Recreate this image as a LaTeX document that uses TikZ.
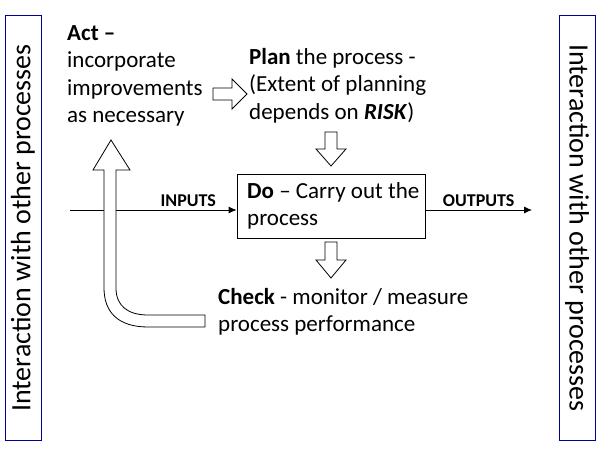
\documentclass[tikz,border=0pt]{standalone}
\usepackage{fontspec}
\setmainfont{Carlito}
\usetikzlibrary{arrows.meta,positioning}
\tikzset{
	txt/.style={align=left, inner sep=0, anchor=north west, font=\fontsize{23}{27.5}\selectfont},
	side/.style={draw=blue!60!black, thin, minimum width=425pt, minimum height=36pt, inner sep=0, font=\fontsize{28}{30}\selectfont},
	hollow/.style={draw, thick, fill=white},
	lbl/.style={font=\bfseries\fontsize{18}{20}\selectfont},
	flow/.style={-{Latex[length=8pt,width=7pt]}, thick}
}
\begin{document}
\begin{tikzpicture}[x=1pt,y=-1pt]
	\useasboundingbox (0,0) rectangle (600,449);
	\node[side, rotate=90] (left) at (23,228) {Interaction with other processes};
	\node[side, rotate=-90] (right) at (577,228) {Interaction with other processes};
	\node[txt] (act) at (67,25) {\textbf{Act –}\\incorporate\\improvements\\as necessary};
	\node[txt] (plan) at (249,48) {\textbf{Plan} the process -\\(Extent of planning\\depends on \textbf{\textit{RISK}})};
	\node[draw, thick, minimum width=188pt, minimum height=64pt, inner sep=0] (do) at (331,206) {};
	\node[txt] (dotxt) at (247,182) {\textbf{Do} – Carry out the\\process};
	\node[txt] (check) at (218,288) {\textbf{Check} - monitor / measure\\process performance};
	\coordinate (in) at (70,210);
	\coordinate (out) at (532,210);
	\draw[flow] (in) -- node[above, lbl, xshift=35pt] {INPUTS} (in -| do.west);
	\draw[flow] (out -| do.east) -- node[above, lbl] {OUTPUTS} (out);
	% hollow arrows
	\draw[hollow] (213,88) -- (232,88) -- (232,79) -- (247,94) -- (232,109) -- (232,100) -- (213,100) -- cycle;
	\draw[hollow] (325,132) -- (337,132) -- (337,149) -- (346,149) -- (331,166) -- (316,149) -- (325,149) -- cycle;
	\draw[hollow] (325,242) -- (337,242) -- (337,260) -- (346,260) -- (331,278) -- (316,260) -- (325,260) -- cycle;
	\draw[hollow] (116,170) -- (116,288) .. controls (116,306) and (128,315) .. (148,315) -- (205,315) -- (205,327) -- (148,327) .. controls (118,327) and (104,312) .. (104,288) -- (104,170) -- (93,170) -- (111,140) -- (130,170) -- cycle;
\end{tikzpicture}
\end{document}
